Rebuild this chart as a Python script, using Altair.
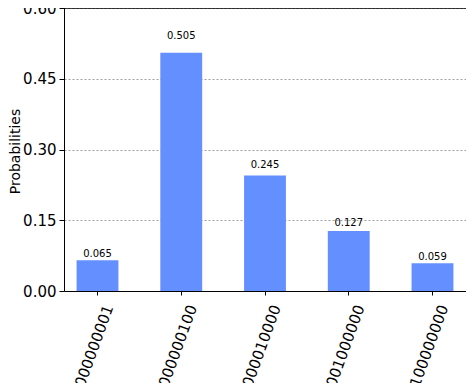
import altair as alt
import pandas as pd

states = ["0000000001", "0000000100", "0000010000", "0001000000", "0100000000"]
probs = [0.065, 0.505, 0.245, 0.127, 0.059]
y_ticks = [0.0, 0.15, 0.30, 0.45, 0.60]
y_top = [0.6]

df = pd.DataFrame({"state": states, "prob": probs})

x_axis = alt.Axis(
    title=None,
    labelAngle=-70,
    labelAlign="center",
    labelBaseline="middle",
    labelPadding=55,
    labelOffset=-5,
    labelFontSize=15,
    labelFont="DejaVu Sans",
    labelColor="#000000",
    labelOverlap=False,
    tickSize=4,
    tickColor="#000000",
    domainColor="#000000",
    grid=False,
)

y_axis = alt.Axis(
    values=y_ticks,
    format=".2f",
    title="Probabilities",
    titleFont="DejaVu Sans",
    titleFontSize=14,
    titleFontWeight="normal",
    titleColor="#000000",
    titleX=-42,
    titleY=143,
    titleBaseline="bottom",
    labelFont="DejaVu Sans",
    labelFontSize=15,
    labelColor="#000000",
    labelPadding=3,
    tickSize=5,
    tickColor="#000000",
    domainColor="#000000",
    grid=True,
    gridDash=[2, 2],
    gridColor="#a0a0a0",
    gridWidth=1,
)

y_scale = alt.Scale(domain=[0, 0.6], nice=False)
x_scale = alt.Scale(paddingInner=0.5, paddingOuter=0.15)

bars = alt.Chart(df).mark_bar(color="#648fff").encode(
    x=alt.X("state:N", sort=states, scale=x_scale, axis=x_axis),
    y=alt.Y("prob:Q", scale=y_scale, axis=y_axis),
)

labels = (
    alt.Chart(df)
    .transform_calculate(ly="datum.prob * 1.05")
    .mark_text(baseline="bottom", align="center", fontSize=10, font="DejaVu Sans", color="#000000")
    .encode(
        x=alt.X("state:N", sort=states, scale=x_scale, axis=x_axis),
        y=alt.Y("ly:Q", scale=y_scale, axis=y_axis),
        text=alt.Text("prob:Q", format=".3f"),
    )
)

top_line = (
    alt.Chart(pd.DataFrame({"top": y_top}))
    .mark_rule(color="#000000", strokeWidth=1.5)
    .encode(y=alt.Y("top:Q", scale=y_scale, axis=y_axis))
)

chart = (
    alt.layer(bars, labels, top_line)
    .properties(
        width=402,
        height=283,
        background="white",
        autosize=alt.AutoSizeParams(type="none"),
        padding={"left": 56, "top": 0, "right": 0, "bottom": 92},
    )
    .configure_view(strokeWidth=0)
)

chart.save("out.html", embed_options={"renderer": "svg", "actions": False})
